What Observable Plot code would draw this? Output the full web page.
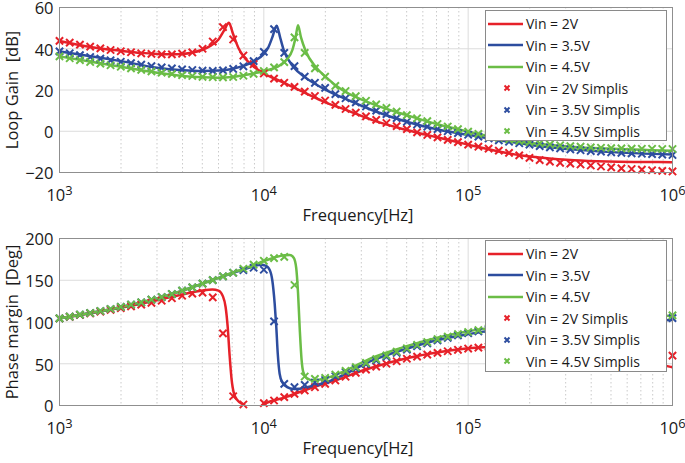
<!DOCTYPE html>
<html>
<head>
<meta charset="utf-8">
<script src="https://cdn.jsdelivr.net/npm/d3@7"></script>
<script src="https://cdn.jsdelivr.net/npm/@observablehq/plot@0.6"></script>
<style>
  body { margin: 0; background: #fff; font-family: "Open Sans", sans-serif; }
  #wrap { position: relative; width: 685px; height: 463px; overflow: hidden; }
  .chart { position: absolute; left: 0; overflow: visible; }
  .legend { position: absolute; box-sizing: border-box; background: #fff; border: 1px solid #8a8a8a;
            font-size: 14px; color: #1a1a1a; padding-top: 2px; }
  .legend .row { display: flex; align-items: center; height: 21.5px; }
  .legend svg { flex: none; }
  .legend span { margin-left: 2px; white-space: nowrap; }
</style>
</head>
<body>
<div id="wrap"></div>
<script>
// Bode plot: analytical model vs Simplis simulation, three input voltages

const series = ["Vin = 2V", "Vin = 3.5V", "Vin = 4.5V"];
const colors = ["#e62129", "#2d4d9f", "#6bbd46"];
const decades = [1e3, 1e4, 1e5, 1e6];
const minorSteps = [2, 3, 4, 5, 6, 7, 8, 9];
const gainTicks = [-20, 0, 20, 40, 60];
const phaseTicks = [0, 50, 100, 150, 200];

// Simplis sample frequencies (Hz), 20 per decade
const freqSim = [1000, 1122, 1259, 1413, 1585, 1778, 1995, 2239, 2512, 2818,
  3162, 3548, 3981, 4467, 5012, 5623, 6310, 7079, 7943, 8913,
  10000, 11220, 12589, 14125, 15849, 17783, 19953, 22387, 25119, 28184,
  31623, 35481, 39811, 44668, 50119, 56234, 63096, 70795, 79433, 89125,
  100000, 112202, 125893, 141254, 158489, 177828, 199526, 223872, 251189, 281838,
  316228, 354813, 398107, 446684, 501187, 562341, 630957, 707946, 794328, 891251,
  1000000];

// model curves, [frequency, loop gain dB]
const gainLine2V = [[1000, 43.8], [1500, 40.5], [2000, 39], [2500, 38], [3000, 37.5], [3500, 37.3],
  [4000, 37.5], [4500, 38.2], [5000, 39.5], [5500, 41.5], [6000, 44.5], [6400, 49], [6750, 52.6],
  [7050, 47.5], [7500, 40.5], [8000, 36], [9000, 31], [10000, 28], [12500, 23.6], [16000, 18.5],
  [20000, 14], [25000, 10.5], [34000, 5.4], [50000, 0.6], [73000, -3.3], [100000, -6.5],
  [150000, -10.3], [180000, -11.6], [225000, -12.7], [330000, -14.1], [480000, -14.7],
  [700000, -14.9], [1000000, -15]];
const gainLine35V = [[1000, 38.7], [1500, 36], [2000, 34], [3000, 30.8], [4000, 29.6], [5000, 29.2],
  [6000, 29.4], [7000, 30.2], [8000, 31.8], [9000, 34], [10000, 37.5], [10500, 40.5], [11000, 45.5],
  [11550, 51.1], [12050, 45], [12500, 39.5], [14000, 31], [16000, 26], [20000, 20.2], [24000, 16.5],
  [34000, 10.2], [50000, 4.6], [73000, 0.6], [100000, -1.7], [154000, -4.9], [225000, -7.3],
  [330000, -8.9], [480000, -10], [1000000, -11.3]];
const gainLine45V = [[1000, 36.3], [1500, 33.3], [2000, 31.3], [3000, 28.4], [4000, 26.8], [5000, 26.2],
  [6000, 26], [7000, 26.3], [8000, 27.2], [10000, 29.2], [12000, 32], [13000, 35], [13800, 39.5],
  [14300, 45.5], [14700, 51.4], [15200, 45.5], [16000, 39], [18000, 31], [20000, 26.5], [24000, 20.2],
  [34000, 13.3], [50000, 7.8], [73000, 3], [100000, -0.2], [154000, -4.1], [225000, -6.2],
  [330000, -7.6], [480000, -8.4], [1000000, -9.5]];

// Simplis loop gain (dB) at freqSim
const gainSim2V = [43.8, 43, 42, 41, 40.2, 39.4, 38.8, 38.3, 37.8, 37.5,
  37.3, 37.3, 37.6, 38.2, 40, 43.5, 50.5, 44.5, 36.7, 32.5,
  28, 25.5, 23.5, 21.5, 19.2, 17.1, 14.9, 12.8, 10.8, 9,
  7.2, 5.5, 4, 2.5, 1, -0.5, -1.8, -3, -4.2, -5.3,
  -6.5, -7.5, -8.4, -9.4, -10.5, -11.7, -12.9, -14, -14.7, -15.3,
  -15.7, -16.1, -16.6, -17.1, -17.5, -18, -18.3, -18.6, -18.9, -19.2,
  -19.5];
const gainSim35V = [38.7, 37.8, 36.9, 36, 35.2, 34.4, 33.7, 33, 32.3, 31.6,
  31, 30.5, 30, 29.7, 29.4, 29.3, 29.5, 30.2, 31.5, 34,
  38.5, 49.5, 38, 31.6, 26.5, 23.5, 21, 18, 16, 14,
  12, 10, 8.3, 6.4, 4.6, 3.3, 2.2, 1, 0, -0.9,
  -1.7, -2.6, -3.5, -4.4, -5.1, -5.8, -6.5, -7.2, -7.8, -8.3,
  -8.8, -9.2, -9.6, -9.9, -10.2, -10.5, -10.7, -10.9, -11.1, -11.3,
  -11.5];
const gainSim45V = [36.3, 35.4, 34.5, 33.6, 32.8, 32, 31.3, 30.5, 29.8, 29,
  28.4, 27.8, 27.2, 26.8, 26.4, 26.2, 26.1, 26.3, 26.9, 27.8,
  29.2, 31, 33.5, 45.5, 38, 30.5, 26.5, 22, 19.5, 17,
  14.8, 13, 11.3, 9.5, 7.8, 6.3, 4.9, 3.5, 2.3, 1,
  -0.2, -1.3, -2.3, -3.2, -4, -4.7, -5.3, -5.9, -6.4, -6.8,
  -7.2, -7.5, -7.8, -8, -8.2, -8.3, -8.4, -8.5, -8.5, -8.6,
  -8.6];

// model curves, [frequency, phase margin deg]
const phaseLine2V = [[1000, 104.4], [2000, 117], [3000, 126], [4000, 133], [5000, 137.8], [5600, 139],
  [6000, 137.5], [6300, 131], [6500, 118], [6650, 95], [6800, 60], [6950, 32], [7150, 14], [7450, 6],
  [7900, 1.5], [8300, -2], [9000, -4], [9700, -1], [10000, 1.5], [12600, 9.5], [16000, 18.5],
  [20000, 26.5], [24000, 32.5], [28500, 39.5], [34000, 45.5], [50000, 56.5], [73000, 64],
  [100000, 68.5], [150000, 71], [200000, 71.5], [300000, 69], [500000, 62], [700000, 54],
  [1000000, 45.8]];
const phaseLine35V = [[1000, 104.4], [2000, 118], [3000, 128.3], [4000, 137.5], [5000, 145.9],
  [6300, 154.6], [7000, 158.5], [8000, 163.2], [9000, 167], [9600, 168.5], [10200, 167.5],
  [10700, 162], [11000, 150], [11300, 122], [11500, 95], [11700, 62], [11950, 38], [12300, 28],
  [13000, 22], [14000, 19.8], [15000, 20], [16000, 21.5], [20000, 27.5], [24000, 35.5], [34000, 54],
  [50000, 68], [73000, 79], [100000, 85.5], [200000, 96], [300000, 99.5], [500000, 101.5],
  [1000000, 102.5]];
const phaseLine45V = [[1000, 104.4], [2000, 118], [3000, 128.3], [4000, 137.5], [5000, 145.9],
  [6300, 154.6], [7000, 159], [8000, 163.8], [9000, 168.6], [10000, 173], [11200, 177], [12600, 180],
  [13400, 180.3], [14000, 177], [14400, 165], [14700, 135], [15000, 90], [15300, 55], [15600, 40],
  [16200, 33], [17500, 30], [20000, 32.5], [24000, 39.5], [34000, 57.3], [50000, 71], [73000, 82],
  [100000, 89], [200000, 99], [300000, 103.5], [500000, 106.5], [1000000, 107.6]];

// Simplis phase margin (deg) at freqSim
const phaseSim2V = [104.2, 106.2, 108.4, 110.4, 112.5, 114.6, 116.6, 118.7, 120.8, 123,
  125.5, 128.5, 131.5, 134, 135.2, 129.5, 86.4, 11.1, 1.2, -4,
  2.8, 6, 10, 14, 18, 21.9, 25.9, 30, 34.5, 39,
  43, 46.5, 50, 53, 56, 58.5, 61, 63, 65, 66.7,
  68.2, 69.3, 70.3, 71, 71.5, 71.8, 72, 71.8, 71.4, 70.8,
  70, 69, 68, 66.8, 65.5, 64.2, 63, 62, 61, 60.3,
  59.8];
const phaseSim35V = [104.4, 106.4, 108.8, 110.8, 113.2, 115.6, 118, 120.7, 123.5, 126.7,
  129.9, 133.5, 137.5, 141.4, 145.9, 150.2, 154.6, 159, 162.2, 165,
  162.6, 100.8, 25.9, 21.9, 24.7, 27.5, 30.5, 35, 40, 44.5,
  49.5, 54, 58.5, 63, 67, 71, 74.5, 78, 81, 84,
  86.5, 88.7, 90.8, 92.7, 94.5, 96, 97.5, 98.8, 100, 101,
  101.8, 102.5, 103, 103.4, 103.7, 104, 104.2, 104.3, 104.4, 104.5,
  104.6];
const phaseSim45V = [104.4, 106.4, 108.8, 110.8, 113.2, 115.6, 118, 120.7, 123.5, 126.7,
  129.9, 133.5, 137.5, 141.4, 145.9, 150.2, 154.6, 159, 163.8, 168.6,
  173.3, 176.5, 178, 144.3, 34.7, 31.9, 33, 37, 41.5, 46,
  51, 55.5, 60, 64.5, 68.5, 72.5, 76, 79.5, 82.5, 85.5,
  88, 90.3, 92.5, 94.5, 96.3, 98, 99.5, 100.8, 102, 103,
  104, 104.8, 105.5, 106, 106.5, 107, 107.3, 107.5, 107.7, 107.8,
  108];

const minorTicks = decades.slice(0, -1).flatMap(d => minorSteps.map(m => d * m));

function lineRows(lists) {
  return lists.flatMap((pairs, i) => pairs.map(([f, v]) => ({f, v, s: series[i]})));
}
function simRows(lists) {
  return lists.flatMap((vals, i) => vals.map((v, k) => ({f: freqSim[k], v, s: series[i]})));
}

function makeChart(o) {
  const plot = Plot.plot({
    width: 685,
    height: o.height,
    marginLeft: 59,
    marginRight: 13,
    marginTop: o.marginTop,
    marginBottom: o.marginBottom,
    style: {fontFamily: '"Open Sans", sans-serif', fontSize: "16.5px", color: "#1a1a1a", background: "white"},
    x: {type: "log", domain: [1e3, 1e6]},
    y: {domain: o.yDomain},
    color: {domain: series, range: colors},
    marks: [
      Plot.ruleX(minorTicks, {stroke: "#bdbdbd", strokeDasharray: "1.5,2.5", strokeWidth: 0.8}),
      Plot.ruleX(decades, {stroke: "#dcdcdc"}),
      Plot.ruleY(o.yTicks, {stroke: "#dcdcdc"}),
      Plot.line(o.lines, {x: "f", y: "v", z: "s", stroke: "s", strokeWidth: 2.5, curve: "monotone-x", clip: true}),
      Plot.dot(o.sims, {
        x: "f", y: "v", stroke: "s", symbol: "times", r: 3.4, strokeWidth: 2,
        filter: d => d.v >= o.yDomain[0]
      }),
      Plot.frame({stroke: "#8f8f8f"}),
      Plot.axisX(decades, {
        tickSize: 0, tickPadding: 17, label: null,
        tickFormat: d => "10^" + Math.round(Math.log10(d))
      }),
      Plot.axisY(o.yTicks, {
        tickSize: 0, tickPadding: 6, dy: 1.5, label: o.yLabel,
        labelAnchor: "center", labelArrow: "none", labelOffset: 53
      }),
      Plot.text(["Frequency[Hz]"], {frameAnchor: "bottom", dy: 48, dx: -8})
    ]
  });

  // turn "10^3" into 10 with a raised exponent
  d3.select(plot).selectAll('g[aria-label="x-axis tick label"] text').each(function () {
    const [base, exp] = this.textContent.split("^");
    const t = d3.select(this);
    t.text(null);
    t.append("tspan").text(base);
    t.append("tspan").attr("dy", "-0.45em").attr("font-size", "0.78em").text(exp);
  });
  return plot;
}

function makeLegend(box) {
  const div = document.createElement("div");
  div.className = "legend";
  Object.assign(div.style, {left: box.left + "px", top: box.top + "px", width: box.width + "px", height: box.height + "px"});
  const rows = series.map((s, i) => ({label: s, color: colors[i], kind: "line"}))
    .concat(series.map((s, i) => ({label: s + " Simplis", color: colors[i], kind: "mark"})));
  rows.forEach(r => {
    const row = document.createElement("div");
    row.className = "row";
    const sw = d3.create("svg").attr("width", 38).attr("height", 12);
    if (r.kind === "line") {
      sw.append("line").attr("x1", 2).attr("x2", 37).attr("y1", 6).attr("y2", 6)
        .attr("stroke", r.color).attr("stroke-width", 2.5);
    } else {
      sw.append("path").attr("d", "M18.5,3.5L23.5,8.5M23.5,3.5L18.5,8.5")
        .attr("stroke", r.color).attr("stroke-width", 2);
    }
    row.appendChild(sw.node());
    const span = document.createElement("span");
    span.textContent = r.label;
    row.appendChild(span);
    div.appendChild(row);
  });
  return div;
}

const wrap = document.getElementById("wrap");

const gainChart = makeChart({
  height: 228, marginTop: 7, marginBottom: 56,
  yDomain: [-20, 60], yTicks: gainTicks, yLabel: "Loop Gain\u00a0 [dB]",
  lines: lineRows([gainLine2V, gainLine35V, gainLine45V]),
  sims: simRows([gainSim2V, gainSim35V, gainSim45V])
});
gainChart.classList.add("chart");
gainChart.style.top = "0px";
wrap.appendChild(gainChart);

const phaseChart = makeChart({
  height: 235, marginTop: 10, marginBottom: 58,
  yDomain: [0, 200], yTicks: phaseTicks, yLabel: "Phase margin\u00a0 [Deg]",
  lines: lineRows([phaseLine2V, phaseLine35V, phaseLine45V]),
  sims: simRows([phaseSim2V, phaseSim35V, phaseSim45V])
});
phaseChart.classList.add("chart");
phaseChart.style.top = "228px";
wrap.appendChild(phaseChart);

wrap.appendChild(makeLegend({left: 485, top: 10, width: 182, height: 131}));
wrap.appendChild(makeLegend({left: 485, top: 240, width: 182, height: 132}));
</script>
</body>
</html>
